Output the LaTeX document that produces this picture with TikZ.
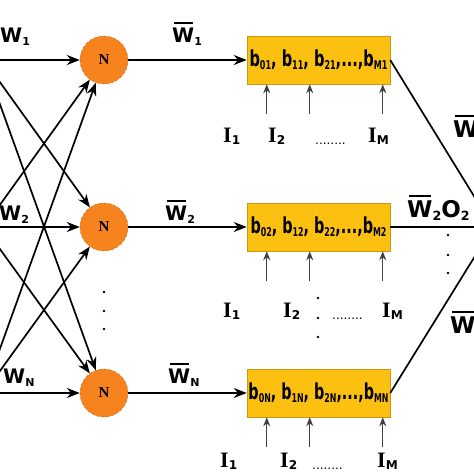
\documentclass[tikz,border=0pt]{standalone}
\usepackage{fontspec}
\setmainfont{Liberation Serif}
\setsansfont{DejaVu Sans}
\usetikzlibrary{arrows.meta}
\definecolor{nrnorange}{RGB}{247,131,30}
\definecolor{vecyellow}{RGB}{252,193,16}
\newcommand{\lowsub}[1]{\raisebox{-0.28ex}{\scalebox{0.55}{\sffamily #1}}}
\newcommand{\barW}{\leavevmode\setbox0\hbox{W}\hbox to\wd0{\hss\rule[\dimexpr\ht0+3.5pt\relax]{0.85\wd0}{1.7pt}\hss}\kern-\wd0 W}
\newcommand{\bcoef}[1]{b\lowsub{#1}}
\tikzset{
 neuron/.style={circle, fill=nrnorange, draw=nrnorange!80!black, densely dashed, line width=0.4pt,
  minimum size=48pt, inner sep=0pt, font=\fontsize{15}{15}\selectfont\bfseries},
 bvec/.style={rectangle, fill=vecyellow, draw=vecyellow!80!black, line width=0.5pt,
  minimum width=143pt, minimum height=48pt, inner sep=0pt, font=\fontsize{22}{22}\selectfont\sffamily\bfseries},
 wire/.style={line width=1.7pt, -{Stealth[length=13pt,width=10pt]}},
 bare/.style={line width=1.7pt},
 feed/.style={line width=1.4pt, black!75, -{Stealth[length=9pt,width=7pt]}},
 wtxt/.style={anchor=base west, inner sep=0pt, font=\fontsize{20}{20}\selectfont\sffamily\bfseries},
 itxt/.style={anchor=base west, inner sep=0pt, font=\fontsize{22}{22}\selectfont\bfseries},
 dotstxt/.style={anchor=base west, inner sep=0pt, yshift=-2pt, font=\fontsize{12}{12}\selectfont\sffamily},
}
% three feed arrows under one b-vector
\newcommand{\feeds}[1]{%
 \foreach \dx in {20,63,136}
  \draw[feed] ([xshift=\dx pt,yshift=-30pt]#1.south west) -- ([xshift=\dx pt]#1.south west);
}
% I labels: row name, baseline, x of I1, I2, dots, IM
\newcommand{\ilabels}[6]{%
 \node[itxt] (#1i1) at (#3,#2) {I\lowsub{1}};
 \node[itxt] (#1i2) at (#4,#2) {I\lowsub{2}};
 \node[dotstxt] (#1id) at (#5,#2) {........};
 \node[itxt] (#1im) at (#6,#2) {I\lowsub{M}};
}
\begin{document}
\begin{tikzpicture}[x=1pt,y=-1pt]
	\useasboundingbox (0,0) rectangle (474,474);
	\clip (0,0) rectangle (474,474);
	\fill[white] (0,0) rectangle (474,474);

	% inputs, left of the frame
	\coordinate (s1) at (-16,60);
	\coordinate (s2) at (-16,227);
	\coordinate (sN) at (-16,393);

	% neurons
	\node[neuron] (n1) at (104,60) {N};
	\node[neuron] (n2) at (104,227) {N};
	\node[neuron] (nN) at (104,393) {N};

	\foreach \s in {s1,s2,sN}
		\foreach \n in {n1,n2,nN}
			\draw[wire] (\s) -- (\n);

	% b-vectors
	\node[bvec] (b1) at (318.5,60) {\resizebox{138pt}{\height}{\bcoef{01}, \bcoef{11}, \bcoef{21},...,\bcoef{M1}}};
	\node[bvec] (b2) at (318.5,227) {\resizebox{136pt}{\height}{\bcoef{02}, \bcoef{12}, \bcoef{22},...,\bcoef{M2}}};
	\node[bvec] (bN) at (318.5,393) {\resizebox{140pt}{\height}{\bcoef{0N}, \bcoef{1N}, \bcoef{2N},...,\bcoef{MN}}};

	\draw[wire] (n1) -- (b1);
	\draw[wire] (n2) -- (b2);
	\draw[wire] (nN) -- (bN);

	\feeds{b1}
	\feeds{b2}
	\feeds{bN}

	\ilabels{r1}{142}{223}{268}{315}{368}
	\ilabels{r2}{317}{223}{283}{332}{382}
	\ilabels{rN}{467}{220}{280}{312}{377}

	% output, right of the frame
	\coordinate (out) at (493,227);
	\draw[bare] (b1.east) -- (out);
	\draw[wire] (b2) -- (out);
	\draw[bare] (bN.east) -- (out);

	% weights
	\node[wtxt] (w1) at (0,42) {W\lowsub{1}};
	\node[wtxt] (w2) at (-1,220) {W\lowsub{2}};
	\node[wtxt] (wN) at (3,383) {W\lowsub{N}};
	\node[wtxt] (wb1) at (172,42) {\barW\lowsub{1}};
	\node[wtxt] (wb2) at (165,220) {\barW\lowsub{2}};
	\node[wtxt] (wbN) at (168,383) {\barW\lowsub{N}};
	\node[wtxt, font=\fontsize{23}{23}\selectfont\sffamily\bfseries] (wo1) at (453,137) {\barW\lowsub{1}O\lowsub{1}};
	\node[wtxt, font=\fontsize{23}{23}\selectfont\sffamily\bfseries] (wo2) at (407,217) {\barW\lowsub{2}O\lowsub{2}};
	\node[wtxt, font=\fontsize{23}{23}\selectfont\sffamily\bfseries] (woN) at (450,333) {\barW\lowsub{N}O\lowsub{N}};

	% dots
	\foreach \y in {292,311,329}
		\fill (104,\y) circle (1.4);
	\foreach \y in {298,318,337}
		\fill (318,\y) circle (1.4);
	\foreach \y in {235,255,273}
		\fill (448,\y) circle (1.4);
\end{tikzpicture}
\end{document}
